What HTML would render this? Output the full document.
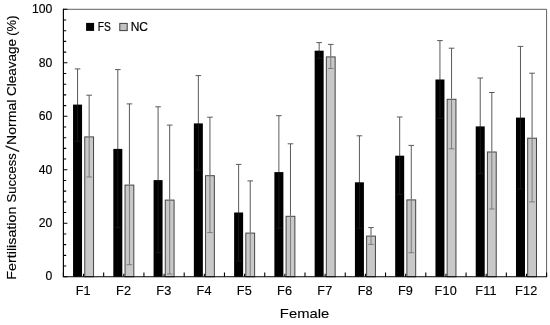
<!DOCTYPE html>
<html lang="en"><head><meta charset="utf-8"><title>Fertilisation Success / Normal Cleavage by Female</title>
<style>
html,body{margin:0;padding:0;background:#fff;}
body{width:550px;height:325px;overflow:hidden;font-family:"Liberation Sans",sans-serif;}
svg{display:block;}
</style></head><body>
<svg width="550" height="325" viewBox="0 0 550 325">
<rect x="0" y="0" width="550" height="325" fill="#fff"/>
<path d="M63.4 9.3H546.6V276.75" fill="none" stroke="#606060" stroke-width="1"/>
<path d="M77.55 68.90V104.60M74.75 68.90H80.35" fill="none" stroke="#5a5a5a" stroke-width="1"/>
<rect x="73.05" y="104.60" width="9.0" height="172.15" fill="#000"/>
<path d="M77.55 104.60V141.20M74.75 141.20H80.35" fill="none" stroke="#181818" stroke-width="1"/>
<rect x="84.75" y="136.90" width="8.8" height="139.85" fill="#c8c8c8" stroke="#444" stroke-width="1"/>
<path d="M89.15 95.20V136.40M86.35 95.20H91.95" fill="none" stroke="#5a5a5a" stroke-width="1"/>
<path d="M89.15 136.40V177.00M86.35 177.00H91.95" fill="none" stroke="#7d7d7d" stroke-width="1"/>
<path d="M117.82 69.60V148.90M115.02 69.60H120.62" fill="none" stroke="#5a5a5a" stroke-width="1"/>
<rect x="113.32" y="148.90" width="9.0" height="127.85" fill="#000"/>
<path d="M117.82 148.90V227.70M115.02 227.70H120.62" fill="none" stroke="#181818" stroke-width="1"/>
<rect x="125.02" y="185.10" width="8.8" height="91.65" fill="#c8c8c8" stroke="#444" stroke-width="1"/>
<path d="M129.42 103.90V184.60M126.62 103.90H132.22" fill="none" stroke="#5a5a5a" stroke-width="1"/>
<path d="M129.42 184.60V264.70M126.62 264.70H132.22" fill="none" stroke="#7d7d7d" stroke-width="1"/>
<path d="M158.08 106.80V180.10M155.28 106.80H160.88" fill="none" stroke="#5a5a5a" stroke-width="1"/>
<rect x="153.58" y="180.10" width="9.0" height="96.65" fill="#000"/>
<path d="M158.08 180.10V252.70M155.28 252.70H160.88" fill="none" stroke="#181818" stroke-width="1"/>
<rect x="165.28" y="200.10" width="8.8" height="76.65" fill="#c8c8c8" stroke="#444" stroke-width="1"/>
<path d="M169.68 125.10V199.60M166.88 125.10H172.48" fill="none" stroke="#5a5a5a" stroke-width="1"/>
<path d="M169.68 199.60V274.00M166.88 274.00H172.48" fill="none" stroke="#7d7d7d" stroke-width="1"/>
<path d="M198.35 75.60V123.40M195.55 75.60H201.15" fill="none" stroke="#5a5a5a" stroke-width="1"/>
<rect x="193.85" y="123.40" width="9.0" height="153.35" fill="#000"/>
<path d="M198.35 123.40V170.10M195.55 170.10H201.15" fill="none" stroke="#181818" stroke-width="1"/>
<rect x="205.55" y="175.70" width="8.8" height="101.05" fill="#c8c8c8" stroke="#444" stroke-width="1"/>
<path d="M209.95 117.20V175.20M207.15 117.20H212.75" fill="none" stroke="#5a5a5a" stroke-width="1"/>
<path d="M209.95 175.20V232.60M207.15 232.60H212.75" fill="none" stroke="#7d7d7d" stroke-width="1"/>
<path d="M238.62 164.40V212.50M235.82 164.40H241.42" fill="none" stroke="#5a5a5a" stroke-width="1"/>
<rect x="234.12" y="212.50" width="9.0" height="64.25" fill="#000"/>
<path d="M238.62 212.50V261.00M235.82 261.00H241.42" fill="none" stroke="#181818" stroke-width="1"/>
<rect x="245.82" y="233.10" width="8.8" height="43.65" fill="#c8c8c8" stroke="#444" stroke-width="1"/>
<path d="M250.22 180.90V232.60M247.42 180.90H253.02" fill="none" stroke="#5a5a5a" stroke-width="1"/>
<path d="M250.22 232.60V276.75" fill="none" stroke="#7d7d7d" stroke-width="1"/>
<path d="M278.88 115.70V172.10M276.08 115.70H281.68" fill="none" stroke="#5a5a5a" stroke-width="1"/>
<rect x="274.38" y="172.10" width="9.0" height="104.65" fill="#000"/>
<path d="M278.88 172.10V228.30M276.08 228.30H281.68" fill="none" stroke="#181818" stroke-width="1"/>
<rect x="286.08" y="216.30" width="8.8" height="60.45" fill="#c8c8c8" stroke="#444" stroke-width="1"/>
<path d="M290.48 143.80V215.80M287.68 143.80H293.28" fill="none" stroke="#5a5a5a" stroke-width="1"/>
<path d="M290.48 215.80V276.75" fill="none" stroke="#7d7d7d" stroke-width="1"/>
<path d="M319.15 42.60V50.70M316.35 42.60H321.95" fill="none" stroke="#5a5a5a" stroke-width="1"/>
<rect x="314.65" y="50.70" width="9.0" height="226.05" fill="#000"/>
<path d="M319.15 50.70V58.40M316.35 58.40H321.95" fill="none" stroke="#181818" stroke-width="1"/>
<rect x="326.35" y="56.90" width="8.8" height="219.85" fill="#c8c8c8" stroke="#444" stroke-width="1"/>
<path d="M330.75 44.40V56.40M327.95 44.40H333.55" fill="none" stroke="#5a5a5a" stroke-width="1"/>
<path d="M330.75 56.40V68.50M327.95 68.50H333.55" fill="none" stroke="#7d7d7d" stroke-width="1"/>
<path d="M359.42 135.80V182.30M356.62 135.80H362.22" fill="none" stroke="#5a5a5a" stroke-width="1"/>
<rect x="354.92" y="182.30" width="9.0" height="94.45" fill="#000"/>
<path d="M359.42 182.30V228.30M356.62 228.30H362.22" fill="none" stroke="#181818" stroke-width="1"/>
<rect x="366.62" y="236.10" width="8.8" height="40.65" fill="#c8c8c8" stroke="#444" stroke-width="1"/>
<path d="M371.02 227.60V235.60M368.22 227.60H373.82" fill="none" stroke="#5a5a5a" stroke-width="1"/>
<path d="M371.02 235.60V244.40M368.22 244.40H373.82" fill="none" stroke="#7d7d7d" stroke-width="1"/>
<path d="M399.68 117.00V155.70M396.88 117.00H402.48" fill="none" stroke="#5a5a5a" stroke-width="1"/>
<rect x="395.18" y="155.70" width="9.0" height="121.05" fill="#000"/>
<path d="M399.68 155.70V194.40M396.88 194.40H402.48" fill="none" stroke="#181818" stroke-width="1"/>
<rect x="406.88" y="199.90" width="8.8" height="76.85" fill="#c8c8c8" stroke="#444" stroke-width="1"/>
<path d="M411.28 145.40V199.40M408.48 145.40H414.08" fill="none" stroke="#5a5a5a" stroke-width="1"/>
<path d="M411.28 199.40V252.70M408.48 252.70H414.08" fill="none" stroke="#7d7d7d" stroke-width="1"/>
<path d="M439.95 40.60V79.50M437.15 40.60H442.75" fill="none" stroke="#5a5a5a" stroke-width="1"/>
<rect x="435.45" y="79.50" width="9.0" height="197.25" fill="#000"/>
<path d="M439.95 79.50V118.40M437.15 118.40H442.75" fill="none" stroke="#181818" stroke-width="1"/>
<rect x="447.15" y="99.30" width="8.8" height="177.45" fill="#c8c8c8" stroke="#444" stroke-width="1"/>
<path d="M451.55 48.20V98.80M448.75 48.20H454.35" fill="none" stroke="#5a5a5a" stroke-width="1"/>
<path d="M451.55 98.80V148.80M448.75 148.80H454.35" fill="none" stroke="#7d7d7d" stroke-width="1"/>
<path d="M480.22 78.00V126.40M477.42 78.00H483.02" fill="none" stroke="#5a5a5a" stroke-width="1"/>
<rect x="475.72" y="126.40" width="9.0" height="150.35" fill="#000"/>
<path d="M480.22 126.40V173.30M477.42 173.30H483.02" fill="none" stroke="#181818" stroke-width="1"/>
<rect x="487.42" y="152.00" width="8.8" height="124.75" fill="#c8c8c8" stroke="#444" stroke-width="1"/>
<path d="M491.82 92.50V151.50M489.02 92.50H494.62" fill="none" stroke="#5a5a5a" stroke-width="1"/>
<path d="M491.82 151.50V209.00M489.02 209.00H494.62" fill="none" stroke="#7d7d7d" stroke-width="1"/>
<path d="M520.48 46.40V117.60M517.68 46.40H523.28" fill="none" stroke="#5a5a5a" stroke-width="1"/>
<rect x="515.98" y="117.60" width="9.0" height="159.15" fill="#000"/>
<path d="M520.48 117.60V188.90M517.68 188.90H523.28" fill="none" stroke="#181818" stroke-width="1"/>
<rect x="527.68" y="138.20" width="8.8" height="138.55" fill="#c8c8c8" stroke="#444" stroke-width="1"/>
<path d="M532.08 73.20V137.70M529.28 73.20H534.88" fill="none" stroke="#5a5a5a" stroke-width="1"/>
<path d="M532.08 137.70V201.90M529.28 201.90H534.88" fill="none" stroke="#7d7d7d" stroke-width="1"/>
<path d="M63.4 8.8V276.75H547.1" fill="none" stroke="#000" stroke-width="1.15"/>
<path d="M63.4 276.75h4.0M63.4 266.05h2.8M63.4 255.35h2.8M63.4 244.66h2.8M63.4 233.96h2.8M63.4 223.26h4.0M63.4 212.56h2.8M63.4 201.86h2.8M63.4 191.17h2.8M63.4 180.47h2.8M63.4 169.77h4.0M63.4 159.07h2.8M63.4 148.37h2.8M63.4 137.68h2.8M63.4 126.98h2.8M63.4 116.28h4.0M63.4 105.58h2.8M63.4 94.88h2.8M63.4 84.19h2.8M63.4 73.49h2.8M63.4 62.79h4.0M63.4 52.09h2.8M63.4 41.39h2.8M63.4 30.70h2.8M63.4 20.00h2.8M63.4 9.30h4.0" fill="none" stroke="#000" stroke-width="1.1"/>
<path d="M63.40 276.75v-4.2M103.67 276.75v-4.2M143.93 276.75v-4.2M184.20 276.75v-4.2M224.47 276.75v-4.2M264.73 276.75v-4.2M305.00 276.75v-4.2M345.27 276.75v-4.2M385.53 276.75v-4.2M425.80 276.75v-4.2M466.07 276.75v-4.2M506.33 276.75v-4.2M546.60 276.75v-4.2M83.53 276.75v-3M123.80 276.75v-3M164.07 276.75v-3M204.33 276.75v-3M244.60 276.75v-3M284.87 276.75v-3M325.13 276.75v-3M365.40 276.75v-3M405.67 276.75v-3M445.93 276.75v-3M486.20 276.75v-3M526.47 276.75v-3" fill="none" stroke="#000" stroke-width="1.1"/>
<g font-family="'Liberation Sans', sans-serif" font-size="12.2" fill="#000" stroke="#000" stroke-width="0.15">
<text x="52.4" y="280.00" text-anchor="end">0</text>
<text x="52.4" y="227.06" text-anchor="end">20</text>
<text x="52.4" y="173.57" text-anchor="end">40</text>
<text x="52.4" y="120.08" text-anchor="end">60</text>
<text x="52.4" y="66.59" text-anchor="end">80</text>
<text x="52.4" y="13.10" text-anchor="end">100</text>
<text x="83.28" y="295.45" text-anchor="middle" font-size="12.7" letter-spacing="0.1">F1</text>
<text x="123.55" y="295.45" text-anchor="middle" font-size="12.7" letter-spacing="0.1">F2</text>
<text x="163.82" y="295.45" text-anchor="middle" font-size="12.7" letter-spacing="0.1">F3</text>
<text x="204.08" y="295.45" text-anchor="middle" font-size="12.7" letter-spacing="0.1">F4</text>
<text x="244.35" y="295.45" text-anchor="middle" font-size="12.7" letter-spacing="0.1">F5</text>
<text x="284.62" y="295.45" text-anchor="middle" font-size="12.7" letter-spacing="0.1">F6</text>
<text x="324.88" y="295.45" text-anchor="middle" font-size="12.7" letter-spacing="0.1">F7</text>
<text x="365.15" y="295.45" text-anchor="middle" font-size="12.7" letter-spacing="0.1">F8</text>
<text x="405.42" y="295.45" text-anchor="middle" font-size="12.7" letter-spacing="0.1">F9</text>
<text x="445.78" y="295.45" text-anchor="middle" font-size="12.7" letter-spacing="0.3">F10</text>
<text x="486.05" y="295.45" text-anchor="middle" font-size="12.7" letter-spacing="0.3">F11</text>
<text x="526.32" y="295.45" text-anchor="middle" font-size="12.7" letter-spacing="0.3">F12</text>
</g>
<rect x="86.1" y="22.9" width="8" height="8" fill="#000"/>
<rect x="119.8" y="23.4" width="7.4" height="7.2" fill="#c2c2c2" stroke="#3c3c3c" stroke-width="1"/>
<text transform="translate(97.80 30.9) scale(0.8289 1)" font-family="'Liberation Sans', sans-serif" font-size="12.4" fill="#000" stroke="#000" stroke-width="0.2">FS</text>
<text transform="translate(130.66 30.9) scale(0.9690 1)" font-family="'Liberation Sans', sans-serif" font-size="12.4" fill="#000" stroke="#000" stroke-width="0.2">NC</text>
<text transform="translate(279.84 318.1) scale(1.1069 1)" font-family="'Liberation Sans', sans-serif" font-size="13.4" fill="#000" stroke="#000" stroke-width="0.1">Female</text>
<text transform="translate(16.2 279.72) rotate(-90) scale(1.0688 1)" font-family="'Liberation Sans', sans-serif" font-size="13.4" fill="#000" stroke="#000" stroke-width="0.15">Fertilisation</text>
<text transform="translate(16.2 202.41) rotate(-90) scale(0.9698 1)" font-family="'Liberation Sans', sans-serif" font-size="13.4" fill="#000" stroke="#000" stroke-width="0.15">Success</text>
<text transform="translate(16.2 145.00) rotate(-90) scale(1.0545 1)" font-family="'Liberation Sans', sans-serif" font-size="13.4" fill="#000" stroke="#000" stroke-width="0.15">Normal</text>
<text transform="translate(16.2 96.03) rotate(-90) scale(1.0100 1)" font-family="'Liberation Sans', sans-serif" font-size="13.4" fill="#000" stroke="#000" stroke-width="0.15">Cleavage</text>
<text transform="translate(16.2 35.71) rotate(-90) scale(0.9684 1)" font-family="'Liberation Sans', sans-serif" font-size="13.4" fill="#000" stroke="#000" stroke-width="0.15">(%)</text>
<text transform="translate(19.2 152.3) rotate(-90) skewX(-8)" font-family="'Liberation Sans', sans-serif" font-size="18.6" fill="#111">/</text>
</svg>
</body></html>
